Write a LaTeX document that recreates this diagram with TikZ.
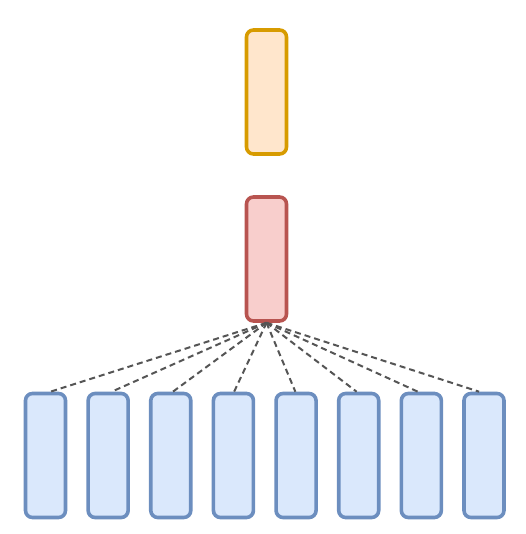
\documentclass[tikz,border=0pt]{standalone}
\usetikzlibrary{positioning}
\definecolor{orf}{HTML}{FFE6CC}\definecolor{ord}{HTML}{D79B00}
\definecolor{rdf}{HTML}{F8CECC}\definecolor{rdd}{HTML}{B85450}
\definecolor{blf}{HTML}{DAE8FC}\definecolor{bld}{HTML}{6C8EBF}
\definecolor{edg}{HTML}{555555}
\begin{document}
\begin{tikzpicture}[x=1pt,y=-1pt,
  cell/.style={rectangle,rounded corners=7pt,minimum width=40pt,minimum height=124pt,line width=3.6pt,inner sep=0pt},
  orbox/.style={cell,draw=ord,fill=orf},
  rdbox/.style={cell,draw=rdd,fill=rdf},
  blbox/.style={cell,draw=bld,fill=blf},
  link/.style={draw=edg,line width=2pt,dash pattern=on 6pt off 4pt}]
\useasboundingbox (0,0) rectangle (525,534);
\node[orbox] (o) at (266.5,92) {};
\node[rdbox] (r) at (266.5,259) {};
\foreach \i in {0,...,7}{
  \node[blbox] (b\i) at ({45.5+62.64*\i},455.5) {};
}
\foreach \i in {0,...,7}{
  \draw[link] (r.south) -- ([xshift={(3.5-\i)*1.4pt}]b\i.north);
}
\end{tikzpicture}
\end{document}
